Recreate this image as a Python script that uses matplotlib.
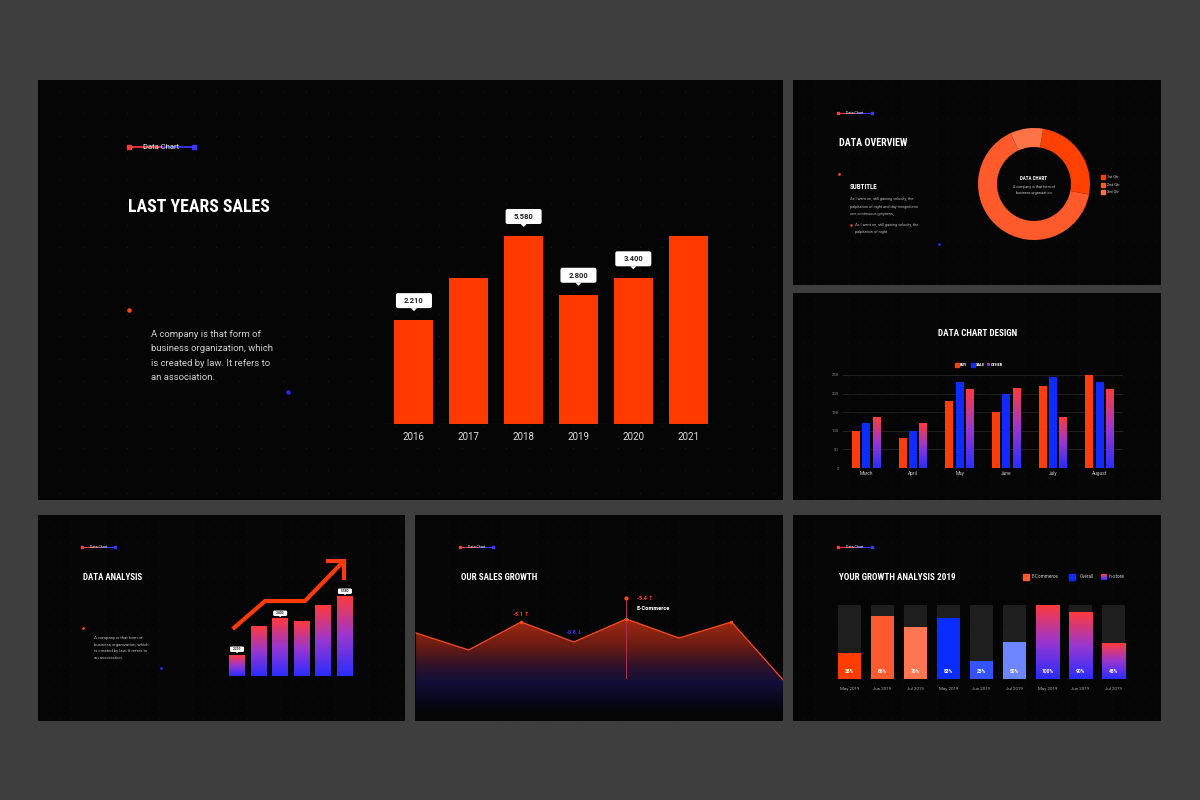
import numpy as np
import matplotlib.pyplot as plt
from matplotlib import font_manager as fm
from matplotlib.patches import Rectangle, FancyBboxPatch, Polygon
from matplotlib.colors import LinearSegmentedColormap

# last years sales
years = ['2016', '2017', '2018', '2019', '2020', '2021']
sales = [2.21, 3.1, 4.0, 2.75, 3.1, 4.0]
sales_labels = {0: '2.210', 2: '5.580', 3: '2.800', 4: '3.400'}

# data overview donut
quarters = ['1st Qtr', '2nd Qtr', '3rd Qtr']
quarter_share = [25.4, 65.1, 9.5]

# data chart design
months = ['March', 'April', 'May', 'June', 'July', 'August']
buy = [100, 80, 180, 150, 220, 250]
sale = [120, 100, 230, 200, 245, 230]
other = [135, 120, 210, 215, 135, 212]

# data analysis
analysis = [21, 49, 57, 54, 70, 79]
analysis_labels = {0: '2.210', 2: '3.400', 5: '5.580'}
trend_x = [-0.2, 1.3, 3.15, 4.95]
trend_y = [47, 75, 75, 115]

# our sales growth
growth = [88, 71, 99, 79, 102, 83, 99, 40]

# growth analysis 2019
growth_months = ['May 2019', 'Jun 2019', 'Jul 2019'] * 3
growth_pct = [35, 85, 70, 83, 25, 50, 100, 90, 48]

W, H = 1200, 800
GRAY = '#3e3e3e'
PANEL = '#050505'
RED = '#ff3b0a'
BLUE = '#0f2bff'
plt.rcParams['font.family'] = ['Roboto', 'DejaVu Sans']


def pick_title_font():
    # narrow display face if one is around, else shrink DejaVu bold
    for fam in ['Roboto Condensed', 'Liberation Sans Narrow', 'Open Sans Condensed']:
        try:
            fm.findfont(fm.FontProperties(family=fam, weight='bold'), fallback_to_default=False)
            return [fam, 'DejaVu Sans'], 1.0
        except ValueError:
            pass
    return ['DejaVu Sans'], 0.7


TITLE_FONT, TS = pick_title_font()

red_blue = LinearSegmentedColormap.from_list('rb', ['#2a2dff', '#9a36d0', '#ff3a3c'])
fade = LinearSegmentedColormap.from_list(
    'fade', [(0, PANEL), (0.06, PANEL), (0.18, '#07071a'), (0.37, '#12103a'),
             (0.53, '#30122a'), (0.72, '#6a1c14'), (1, '#a82a10')])
grad = np.linspace(0, 1, 128).reshape(-1, 1)

fig = plt.figure(figsize=(12, 8), dpi=100, facecolor=GRAY)
bg = fig.add_axes([0, 0, 1, 1], zorder=0)
bg.axis('off')


def px_axes(x0, y0, x1, y1):
    ax = fig.add_axes([x0 / W, 1 - y1 / H, (x1 - x0) / W, (y1 - y0) / H], zorder=2)
    ax.set_facecolor('none')
    for s in ax.spines.values():
        s.set_visible(False)
    return ax


def grad_bar(ax, xc, h, w, z=3):
    ax.imshow(grad, cmap=red_blue, origin='lower', aspect='auto',
              extent=(xc - w / 2, xc + w / 2, 0, h), zorder=z)


def callout(ax, xc, ytop, text, w, h, gap, tri, fs, sx, sy):
    yb = ytop + gap / sy
    ax.add_patch(FancyBboxPatch((xc - w / 2 / sx, yb), w / sx, h / sy,
                                boxstyle=f'round,pad=0,rounding_size={min(2, h / 4) / sx}',
                                mutation_aspect=sx / sy, fc='white', ec='none', zorder=4))
    ax.add_patch(Polygon([(xc - tri / sx, yb), (xc + tri / sx, yb), (xc, yb - tri / sy)],
                         fc='white', ec='none', zorder=4))
    ax.text(xc, yb + h / 2 / sy, text, ha='center', va='center', fontsize=fs,
            fontweight='bold', color='#222222', zorder=5)


def tag(x0, x1, y, fs, lw):
    xm = (x0 + x1) / 2
    bg.plot([x0, xm], [y, y], color='#ff3b3b', lw=lw, solid_capstyle='butt')
    bg.plot([xm, x1], [y, y], color='#3b3bff', lw=lw, solid_capstyle='butt')
    bg.plot([x0], [y], 's', ms=lw * 2.2, color='#ff3b3b')
    bg.plot([x1], [y], 's', ms=lw * 2.2, color='#3b3bff')
    bg.text(xm, y, 'Data Chart', ha='center', va='center', color='#f0f0f0', fontsize=fs)


def title(x, y, text, fs, ha='left', ax=None, color='white'):
    (ax or bg).text(x, y, text, ha=ha, va='center', color=color, fontsize=fs * TS,
                    fontweight='bold', family=TITLE_FONT)


def grad_square(x, y, s):
    bg.imshow(grad, cmap=red_blue, origin='lower', aspect='auto',
              extent=(x - s / 2, x + s / 2, y + s / 2, y - s / 2), zorder=3)


# panels with faint dot grid
panels = [(38, 80, 783, 500, 22.3), (793, 80, 1161, 285, 11), (793, 293, 1161, 500, 11),
          (38, 515, 405, 721, 11), (415, 515, 783, 721, 11), (793, 515, 1161, 721, 11)]
for x0, y0, x1, y1, step in panels:
    bg.add_patch(Rectangle((x0, y0), x1 - x0, y1 - y0, color=PANEL, lw=0, zorder=0))
    gx, gy = np.meshgrid(np.arange(x0 + step, x1, step), np.arange(y0 + step / 2, y1, step))
    bg.scatter(gx.ravel(), gy.ravel(), s=0.6 if step > 20 else 0.2, color='#1d1d1d', lw=0, zorder=1)

# ---- main panel ----
tag(129, 194, 147, 5.5, 1.2)
title(128, 207, 'LAST YEARS SALES', 12.8)
bg.plot(129, 310, 'o', ms=2.2, color='#ff4a1a')
bg.plot(288, 392, 'o', ms=2.2, color='#2a2aff')
bg.text(151, 330, 'A company is that form of\nbusiness organization, which\n'
        'is created by law. It refers to\nan association.',
        va='top', ha='left', fontsize=6.8, linespacing=1.75, color='#d0d0d0')

ax = px_axes(386, 200, 715, 424)
xs = np.arange(len(years))
ax.bar(xs, sales, width=0.71, color='#ff3a00', zorder=2)
ax.set_xlim(-0.51, 5.49)
ax.set_ylim(0, 224 / 47)
ax.axhline(0, color='#5a5a5a', lw=0.8)
ax.set_xticks(xs, years)
ax.set_yticks([])
ax.tick_params(axis='x', length=0, pad=6, labelcolor='#e0e0e0', labelsize=7)
for i, lab in sales_labels.items():
    callout(ax, xs[i], sales[i], lab, 36, 15, 12, 3, 5.5, 54.8, 47)

# ---- data overview ----
tag(838, 872, 113, 2.6, 0.7)
title(839, 143, 'DATA OVERVIEW', 7.2)
bg.plot(839, 174, 'o', ms=1, color='#ff4a1a')
title(850, 187, 'SUBTITLE', 5)
for yy, line in zip([199, 207, 214], ['As I went on, still gaining velocity, the',
                                      'palpitation of night and day merged into',
                                      'one continuous greyness,']):
    bg.text(850, yy, line, va='center', color='#bbbbbb', fontsize=2.8)
bg.plot(851, 225, 'o', ms=0.8, color='#ff4a1a')
for yy, line in zip([225, 232], ['As I went on, still gaining velocity, the',
                                 'palpitation of night.']):
    bg.text(855, yy, line, va='center', color='#bbbbbb', fontsize=2.8)
bg.plot(939, 244, 'o', ms=1, color='#2a2aff')

donut_colors = ['#ff4000', '#ff5a2c', '#ff7447']
ax = px_axes(978, 128, 1090, 240)
ax.pie(quarter_share, colors=donut_colors, startangle=80.6, counterclock=False, radius=1,
       wedgeprops=dict(width=0.34, edgecolor='none'))
ax.set_xlim(-1, 1)
ax.set_ylim(-1, 1)
title(1034, 178, 'DATA CHART', 3.6, ha='center')
bg.text(1034, 187, 'A company is that form of', ha='center', va='center', color='#cccccc', fontsize=2.6)
bg.text(1034, 193, 'business organization.', ha='center', va='center', color='#cccccc', fontsize=2.6)
for yy, q, c in zip([177, 185, 192], quarters, donut_colors):
    bg.plot(1103, yy, 's', ms=2.2, color=c)
    bg.text(1107, yy, q, va='center', color='#cccccc', fontsize=2.8)

# ---- data chart design ----
title(978, 334, 'DATA CHART DESIGN', 6.6, ha='center')
bg.plot(957, 365, 's', ms=2.2, color=RED)
bg.plot(973, 365, 's', ms=2.2, color=BLUE)
grad_square(988, 365, 3)
for xx, lab in zip([960, 975.5, 991], ['BUY', 'SALE', 'OTHER']):
    title(xx, 365, lab, 3.2)

ax = px_axes(843, 375, 1123, 468)
xm = np.arange(len(months))
ax.bar(xm - 0.22, buy, 0.17, color='#ff3d0a', zorder=3)
ax.bar(xm, sale, 0.17, color=BLUE, zorder=3)
for xi, v in zip(xm + 0.22, other):
    grad_bar(ax, xi, v, 0.17)
ax.set_xlim(-0.5, 5.5)
ax.set_ylim(0, 250)
ax.set_yticks(range(0, 251, 50))
ax.set_xticks(xm, months)
ax.grid(axis='y', color='#262626', lw=0.6)
ax.set_axisbelow(True)
ax.tick_params(axis='y', length=0, pad=3, labelcolor='#8a8a8a', labelsize=3)
ax.tick_params(axis='x', length=0, pad=2, labelcolor='#cccccc', labelsize=3.4)

# ---- data analysis ----
tag(82, 115, 547, 2.6, 0.7)
title(83, 577, 'DATA ANALYSIS', 6.4)
bg.plot(83, 628, 'o', ms=1, color='#ff4a1a')
bg.plot(161, 668, 'o', ms=1, color='#2a2aff')
bg.text(94, 636, 'A company is that form of\nbusiness organization, which\n'
        'is created by law. It refers to\nan association.',
        va='top', ha='left', fontsize=3.1, linespacing=1.9, color='#bbbbbb')

ax = px_axes(215, 540, 365, 676)
xa = np.arange(len(analysis))
for xi, v in zip(xa, analysis):
    grad_bar(ax, xi, v, 0.74)
ax.plot(trend_x, trend_y, color=RED, lw=3, solid_joinstyle='miter', solid_capstyle='butt',
        zorder=4, clip_on=False)
ax.plot([trend_x[-1] - 0.85, trend_x[-1], trend_x[-1]],
        [trend_y[-1], trend_y[-1], trend_y[-1] - 19], color=RED, lw=3,
        solid_joinstyle='miter', solid_capstyle='butt', zorder=4, clip_on=False)
ax.set_xlim(-1.02, 5.93)
ax.set_ylim(0, 136)
ax.axis('off')
for i, lab in analysis_labels.items():
    callout(ax, xa[i], analysis[i], lab, 14, 5.5, 3, 1.2, 2.3, 21.6, 1)

# ---- our sales growth ----
tag(460, 493, 547, 2.6, 0.7)
title(461, 577, 'OUR SALES GROWTH', 6.5)

ax = px_axes(415, 540, 783, 721)
xg = np.arange(len(growth))
area = Polygon([(xg[0], 0)] + list(zip(xg, growth)) + [(xg[-1], 0)],
               closed=True, fc='none', ec='none')
ax.add_patch(area)
im = ax.imshow(grad, cmap=fade, origin='lower', aspect='auto',
               extent=(xg[0], xg[-1], 0, 105), zorder=1)
im.set_clip_path(area)
ax.plot(xg, growth, color='#ff4a1f', lw=0.9, zorder=3)
ax.plot([4, 4], [43, growth[4] + 21], color='#b03050', lw=0.7, zorder=2)
ax.plot(4, growth[4] + 21, 'o', ms=2, color='#ff4a1f', zorder=4)
ax.plot([2, 4, 6], [growth[2], growth[4], growth[6]], 'o', ms=1.6, color='#ff4a1f', zorder=4)
title(2, growth[2] + 8, '-5.1 ↑', 4.2, ha='center', ax=ax, color='#ff4a1f')
title(3, growth[3] + 10, '-0.8 ↓', 4.2, ha='center', ax=ax, color='#3b3bff')
title(4.2, growth[4] + 20, '-5.4 ↑', 4.2, ax=ax, color='#ff4a1f')
title(4.2, growth[4] + 11, 'E-Commerce', 4.6, ax=ax)
ax.set_xlim(-0.02, 6.98)
ax.set_ylim(0, 181)
ax.axis('off')

# ---- growth analysis 2019 ----
tag(838, 872, 547, 2.6, 0.7)
title(839, 577, 'YOUR GROWTH ANALYSIS 2019', 6.6)
bg.plot(1026, 577, 's', ms=4.3, color='#ff5a2e')
bg.plot(1072, 577, 's', ms=4.3, color=BLUE)
grad_square(1104, 577, 6)
for xx, lab in zip([1032, 1080, 1109], ['E-Commerce', 'Overall', 'In-store']):
    bg.text(xx, 577, lab, va='center', color='#cccccc', fontsize=3.3)

ax = px_axes(833, 605, 1131, 679)
xb = np.arange(len(growth_pct))
solid = ['#ff3d00', '#ff5a2e', '#ff7650', '#0a2cff', '#3552ff', '#6d86ff']
ax.bar(xb, [100] * len(xb), 0.7, color='#1e1e1e', zorder=1)
ax.bar(xb[:6], growth_pct[:6], 0.7, color=solid, zorder=2)
for i in xb[6:]:
    grad_bar(ax, i, growth_pct[i], 0.7)
for i, p in zip(xb, growth_pct):
    ax.text(i, 10.8, f'{p}%', ha='center', va='center', color='white', fontsize=3.5,
            fontweight='bold', zorder=5)
ax.set_xlim(-0.5, 8.53)
ax.set_ylim(0, 100)
ax.set_xticks(xb, growth_months)
ax.set_yticks([])
ax.tick_params(axis='x', length=0, pad=6, labelcolor='#aaaaaa', labelsize=3.2)

bg.set_xlim(0, W)
bg.set_ylim(H, 0)
fig.savefig('out.png', dpi=100, facecolor=GRAY)
